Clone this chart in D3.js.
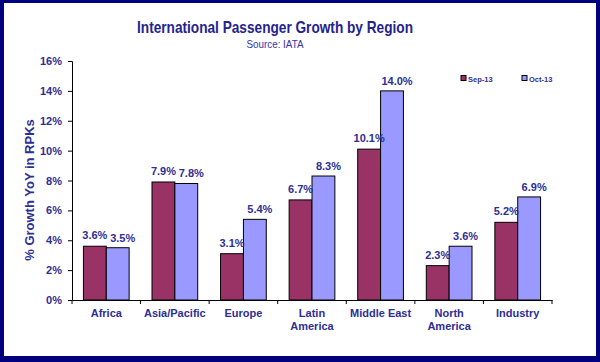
<!DOCTYPE html>
<html><head><meta charset="utf-8">
<script src="https://cdn.jsdelivr.net/npm/d3@7"></script>
<style>html,body{margin:0;padding:0;background:#fff;}svg{display:block;}</style>
</head><body>
<svg id="chart" width="600" height="362"></svg>
<script>
const categories = [["Africa"],["Asia/Pacific"],["Europe"],["Latin","America"],["Middle East"],["North","America"],["Industry"]];
const seriesNames = ["Sep-13","Oct-13"];
const sep13 = [3.6,7.9,3.1,6.7,10.1,2.3,5.2];
const oct13 = [3.5,7.8,5.4,8.3,14.0,3.6,6.9];
const yTicks = [0,2,4,6,8,10,12,14,16];
const colors = ["#993366","#9999ff"];
const textColor = "#2e2e96";

(function(){
const svg = d3.select("#chart");
const W = 600, H = 362;
svg.append("rect").attr("x",0).attr("y",0).attr("width",W).attr("height",H).attr("fill","#00007f");
svg.append("rect").attr("x",4).attr("y",3).attr("width",W-8).attr("height",H-9).attr("fill","#fff");

const font = "Liberation Sans, Arial, sans-serif";
const pLeft = 72, pRight = 552, pTop = 61, pBottom = 300;

const keys = categories.map(c => c.join(" "));
const x = d3.scaleBand().domain(keys).range([pLeft,pRight]).paddingInner(0).paddingOuter(0);
const x1 = d3.scaleBand().domain(seriesNames).range([0,x.bandwidth()]).paddingInner(0).paddingOuter(0.5);
const y = d3.scaleLinear().domain([0,16]).range([pBottom,pTop]);

// title
svg.append("text").attr("x",275).attr("y",33).attr("text-anchor","middle")
  .attr("font-family",font).attr("font-weight","bold").attr("font-size",17).attr("fill","#24248c")
  .attr("textLength",276).attr("lengthAdjust","spacingAndGlyphs")
  .text("International Passenger Growth by Region");
svg.append("text").attr("x",275).attr("y",48).attr("text-anchor","middle")
  .attr("font-family",font).attr("font-size",11.5).attr("fill","#3333aa")
  .attr("textLength",57).attr("lengthAdjust","spacingAndGlyphs")
  .text("Source: IATA");

// bars
const g = svg.append("g");
const data = keys.map((k,i)=>({k, vals:[sep13[i],oct13[i]]}));
const grp = g.selectAll("g.grp").data(data).join("g").attr("transform",d=>`translate(${x(d.k)},0)`);
grp.selectAll("rect").data(d=>d.vals.map((v,j)=>({v,s:seriesNames[j],j}))).join("rect")
  .attr("x",d=>x1(d.s)).attr("width",x1.bandwidth())
  .attr("y",d=>y(d.v)).attr("height",d=>y(0)-y(d.v))
  .attr("fill",d=>colors[d.j]).attr("stroke","#000").attr("stroke-width",1);
grp.selectAll("text.lbl").data(d=>d.vals.map((v,j)=>({v,s:seriesNames[j],j}))).join("text")
  .attr("class","lbl")
  .attr("x",d=>x1(d.s)+x1.bandwidth()/2 + (d.j===0?0:5)).attr("y",d=>y(d.v)-(d.j===0?7:6))
  .attr("text-anchor","middle").attr("font-family",font).attr("font-weight","bold").attr("font-size",11)
  .attr("fill",textColor).text(d=>d.v.toFixed(1)+"%");

// y axis
const yAxis = d3.axisLeft(y).tickValues(yTicks).tickFormat(d=>d+"%").tickSize(4).tickPadding(6);
const ya = svg.append("g").attr("transform",`translate(${pLeft},0)`).call(yAxis);
ya.select(".domain").attr("stroke","#000");
ya.selectAll(".tick line").attr("stroke","#000");
ya.selectAll(".tick text").attr("font-family",font).attr("font-weight","bold").attr("font-size",11).attr("fill",textColor);

// x axis
const xAxis = d3.axisBottom(x).tickSize(0).tickFormat(()=>"");
const xa = svg.append("g").attr("transform",`translate(0,${pBottom})`).call(xAxis);
xa.select(".domain").attr("stroke","#000");
xa.selectAll(".tick").remove();
const sep = svg.append("g");
sep.selectAll("line").data(keys.concat(["_end"])).join("line")
  .attr("x1",(d,i)=> i<keys.length ? x(d) : pRight).attr("x2",(d,i)=> i<keys.length ? x(d) : pRight)
  .attr("y1",pBottom).attr("y2",pBottom+4).attr("stroke","#000");
const cl = svg.append("g");
categories.forEach((c,i)=>{
  const t = cl.append("text").attr("x",x(keys[i])+x.bandwidth()/2).attr("y",pBottom+17)
    .attr("text-anchor","middle").attr("font-family",font).attr("font-weight","bold").attr("font-size",11).attr("fill",textColor);
  c.forEach((line,j)=>t.append("tspan").attr("x",x(keys[i])+x.bandwidth()/2).attr("dy",j===0?0:13).text(line));
});

// y label
svg.append("text").attr("transform","translate(34,190) rotate(-90)").attr("text-anchor","middle")
  .attr("font-family",font).attr("font-weight","bold").attr("font-size",13).attr("fill",textColor)
  .text("% Growth YoY in RPKs");

// legend
const legX = [461,522];
const lg = svg.append("g");
seriesNames.forEach((s,i)=>{
  lg.append("rect").attr("x",legX[i]).attr("y",75.5).attr("width",5).attr("height",5)
    .attr("fill",colors[i]).attr("stroke","#000").attr("stroke-width",1);
  lg.append("text").attr("x",legX[i]+7).attr("y",81.5).attr("font-family",font).attr("font-weight","bold")
    .attr("font-size",7.5).attr("fill",textColor).text(s);
});
})();
</script>
</body></html>
